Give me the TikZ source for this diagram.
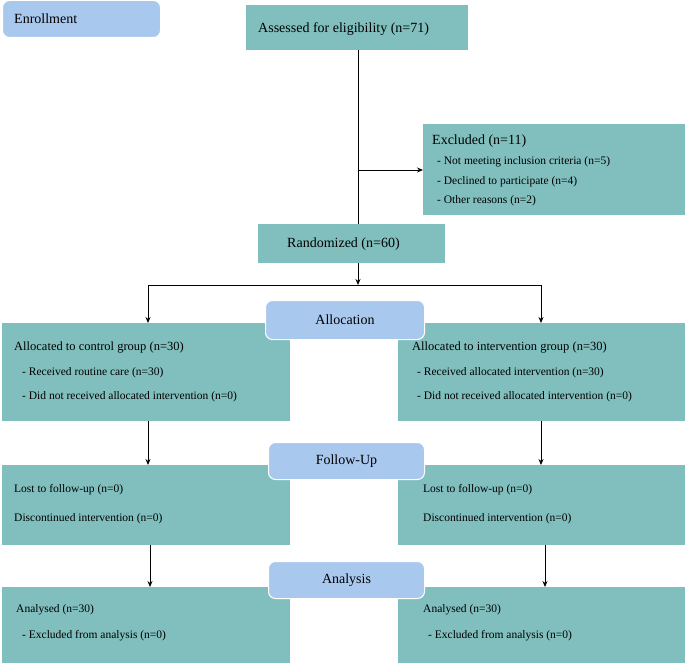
\documentclass[tikz,border=0pt]{standalone}
\usepackage{fontspec}
\setmainfont{Liberation Serif}
\usetikzlibrary{arrows.meta}
\definecolor{teal1}{HTML}{80BFBE}
\definecolor{lblue}{HTML}{A9C8EE}
\begin{document}
\begin{tikzpicture}[x=1pt,y=-1pt,
 box/.style={fill=teal1,draw=none,inner sep=0,anchor=north west},
 lab/.style={fill=lblue,draw=white,line width=1pt,rounded corners=7pt,inner sep=0,font=\fontsize{14}{16}\selectfont},
 t/.style={anchor=west,inner sep=0,font=\fontsize{12.5}{14}\selectfont},
 s/.style={anchor=west,inner sep=0,font=\fontsize{11.5}{13}\selectfont},
 arr/.style={-{Stealth[length=6pt,width=5pt]},line width=0.8pt},
 ln/.style={line width=0.8pt}]
\useasboundingbox (0,0) rectangle (685,663);
\node[lab,minimum width=158,minimum height=37,anchor=north west] (enr) at (2,0) {};
\node[t,font=\fontsize{14}{16}\selectfont] (enrt) at (14,19) {Enrollment};
\node[box,minimum width=222,minimum height=45] (ass) at (246,5) {};
\node[t,font=\fontsize{14}{16}\selectfont] (asst) at (258,29) {Assessed for eligibility (n=71)};
\node[box,minimum width=262,minimum height=91] (exc) at (423,124) {};
\node[t,font=\fontsize{14}{16}\selectfont] (exct) at (432,141) {Excluded (n=11)};
\node[s] (e1) at (437,162) {- Not meeting inclusion criteria (n=5)};
\node[s] (e2) at (437,182) {- Declined to participate (n=4)};
\node[s] (e3) at (437,201) {- Other reasons (n=2)};
\node[box,minimum width=187,minimum height=39] (ran) at (258,224) {};
\node[t,font=\fontsize{14}{16}\selectfont] (rant) at (287,244) {Randomized (n=60)};
\coordinate (j1) at (358,170);
\coordinate (rb) at (358,263);
\coordinate (sp) at (358,285);
\coordinate (sl) at (148,285);
\coordinate (sr) at (541,285);
\draw[ln] (358,50) -- (358,224);
\draw[arr] (j1) -- (423,170);
\draw[arr] (rb) -- (sp);
\draw[ln] (sl) -- (sr);
\node[box,minimum width=288,minimum height=98] (ca) at (2,323) {};
\node[box,minimum width=287,minimum height=98] (ia) at (398,323) {};
\draw[arr] (sl) -- (148,323);
\draw[arr] (sr) -- (541,323);
\node[t] (cat) at (14,348) {Allocated to control group (n=30)};
\node[s] (ca1) at (22,373) {- Received routine care (n=30)};
\node[s] (ca2) at (22,397) {- Did not received allocated intervention (n=0)};
\node[t] (iat) at (412,348) {Allocated to intervention group (n=30)};
\node[s] (ia1) at (417,373) {- Received allocated intervention (n=30)};
\node[s] (ia2) at (417,397) {- Did not received allocated intervention (n=0)};
\node[lab,minimum width=159,minimum height=39,anchor=north west] (alloc) at (265,300) {Allocation};
\node[box,minimum width=288,minimum height=80] (cf) at (2,465) {};
\node[box,minimum width=287,minimum height=80] (if) at (398,465) {};
\draw[arr] (148,421) -- (148,465);
\draw[arr] (541,421) -- (541,465);
\node[s] (cf1) at (14,490) {Lost to follow-up (n=0)};
\node[s] (cf2) at (14,519) {Discontinued intervention (n=0)};
\node[s] (if1) at (423,490) {Lost to follow-up (n=0)};
\node[s] (if2) at (423,519) {Discontinued intervention (n=0)};
\node[lab,minimum width=156,minimum height=37,anchor=north west] (fol) at (268,442) {Follow-Up};
\node[box,minimum width=288,minimum height=76] (cn) at (2,587) {};
\node[box,minimum width=287,minimum height=76] (in) at (398,587) {};
\draw[arr] (150,545) -- (150,587);
\draw[arr] (545,545) -- (545,587);
\node[s] (cn1) at (16,610) {Analysed (n=30)};
\node[s] (cn2) at (22,636) {- Excluded from analysis (n=0)};
\node[s] (in1) at (423,610) {Analysed (n=30)};
\node[s] (in2) at (428,636) {- Excluded from analysis (n=0)};
\node[lab,minimum width=156,minimum height=37,anchor=north west] (ana) at (268,561) {Analysis};
\end{tikzpicture}
\end{document}
